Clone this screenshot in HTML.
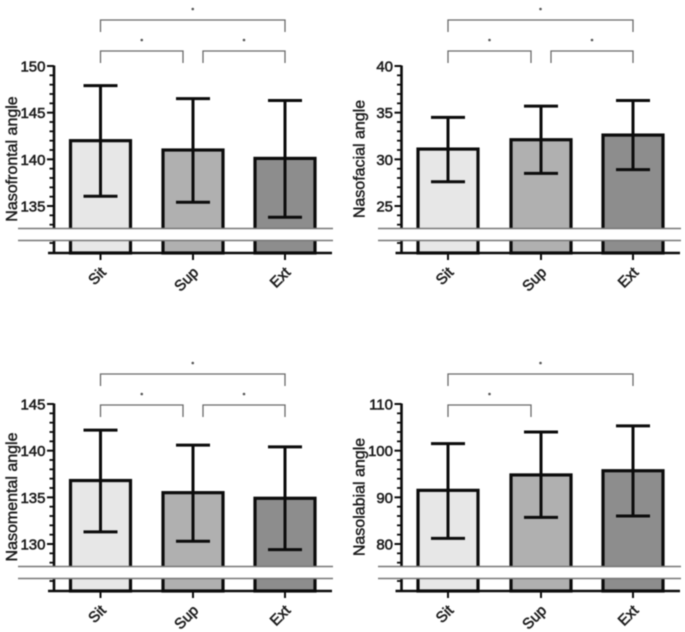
<!DOCTYPE html>
<html lang="en">
<head>
<meta charset="utf-8">
<title>Facial angle charts</title>
<style>
html,body{margin:0;padding:0;background:#fff;width:685px;height:632px;overflow:hidden}
svg{display:block;filter:blur(0.5px)}
text{font-family:"Liberation Sans",Arial,sans-serif;fill:#1c1c1c}
</style>
</head>
<body>
<svg id="chart" width="685" height="632" viewBox="0 0 685 632" xmlns="http://www.w3.org/2000/svg"></svg>
<script>
const categories = ['Sit', 'Sup', 'Ext'];
const panelTitles = ['Nasofrontal angle', 'Nasofacial angle', 'Nasomental angle', 'Nasolabial angle'];
const means = [[142, 141, 140.1], [31.1, 32.1, 32.6], [136.8, 135.5, 134.9], [91.5, 94.8, 95.7]];
const upperErrors = [[147.9, 146.5, 146.3], [34.5, 35.7, 36.3], [142.2, 140.6, 140.4], [101.5, 104, 105.3]];
const lowerErrors = [[136.05, 135.4, 133.8], [27.6, 28.5, 28.9], [131.3, 130.3, 129.4], [81.2, 85.7, 86]];
const tickLabels = [[150, 145, 140, 135], [40, 35, 30, 25], [145, 140, 135, 130], [110, 100, 90, 80]];
const significantPairs = [[[0, 2], [0, 1], [1, 2]], [[0, 2], [0, 1], [1, 2]], [[0, 2], [0, 1], [1, 2]], [[0, 2], [0, 1]]];

const NS = 'http://www.w3.org/2000/svg';
const root = document.getElementById('chart');
const fills = ['#e7e7e7', '#b0b0b0', '#8d8d8d'];
const INK = '#0c0c0c';

function make(tag, attrs, parent) {
  const el = document.createElementNS(NS, tag);
  for (const k in attrs) el.setAttribute(k, attrs[k]);
  parent.appendChild(el);
  return el;
}

panelTitles.forEach(function (title, p) {
  const col = p % 2, row = p < 2 ? 0 : 1;
  const axisX = col === 0 ? 54 : 401.5;
  const top = row === 0 ? 66 : 404;
  const span = 140;
  const baseY = top + 187;
  const break1 = top + 162.5, break2 = top + 174.5;
  const breakL = col === 0 ? 18 : 378, breakR = col === 0 ? 333 : 681;
  const axisL = axisX - 6, axisR = breakR - 1;
  const ticks = tickLabels[p];
  const hi = ticks[0], lo = ticks[ticks.length - 1];
  const major = ticks[0] - ticks[1];
  const yScale = function (v) { return top + (hi - v) / (hi - lo) * span; };
  const centers = col === 0 ? [100.5, 193, 285] : [448, 541, 633];
  const xScale = function (i) { return centers[i]; };
  const barW = 60;

  const g = make('g', {}, root);
  
  

  categories.forEach(function (cat, i) {
    const y = yScale(means[p][i]);
    const bar = make('rect', { x: xScale(i) - barW / 2, y: y, width: barW, height: baseY - y, fill: fills[i], stroke: INK, 'stroke-width': 3.2 }, g);
    
    
  });

  const axis = make('line', { x1: axisX, x2: axisX, y1: top - 0.5, y2: baseY, stroke: INK, 'stroke-width': 2.6 }, g);
  
  

  const minorStep = major / 5;
  for (let n = 0; ; n++) {
    const v = hi - n * minorStep;
    const y = yScale(v);
    if (y > break1) break;
    if (n % 5 === 0) continue;
    const minor = make('line', { x1: axisX - 4.5, x2: axisX, y1: y, y2: y, stroke: INK, 'stroke-width': 1.8 }, g);
    
    
  }
  const lowTick = make('line', { x1: axisX - 4.5, x2: axisX, y1: baseY - 10, y2: baseY - 10, stroke: INK, 'stroke-width': 1.8 }, g);
  
  

  ticks.forEach(function (t) {
    const y = yScale(t);
    const tick = make('line', { x1: axisX - 7, x2: axisX, y1: y, y2: y, stroke: INK, 'stroke-width': 2 }, g);
    
    
    const label = make('text', { x: axisX - 8.5, y: y + 5.5, 'text-anchor': 'end', 'font-size': 15, stroke: '#1c1c1c', 'stroke-width': 0.55 }, g);
    label.textContent = t;
    
    
  });

  const xAxis = make('line', { x1: axisL, x2: axisR, y1: baseY, y2: baseY, stroke: INK, 'stroke-width': 2.4 }, g);
  
  

  const gap = make('rect', { x: breakL, y: break1, width: breakR - breakL, height: break2 - break1, fill: '#fff' }, g);
  
  
  [break1, break2].forEach(function (by) {
    const line = make('line', { x1: breakL, x2: breakR, y1: by, y2: by, stroke: '#777', 'stroke-width': 1.4 }, g);
    
    
  });

  categories.forEach(function (cat, i) {
    const x = xScale(i), yU = yScale(upperErrors[p][i]), yL = yScale(lowerErrors[p][i]);
    const d = 'M' + x + ' ' + yU + 'V' + yL + 'M' + (x - 17) + ' ' + yU + 'H' + (x + 17) + 'M' + (x - 17) + ' ' + yL + 'H' + (x + 17);
    const err = make('path', { d: d, fill: 'none', stroke: INK, 'stroke-width': 3 }, g);
    
    

    const tick = make('line', { x1: x, x2: x, y1: baseY, y2: baseY + 7, stroke: INK, 'stroke-width': 2 }, g);
    
    
    const lx = x + 3.5, ly = baseY + 17.5;
    const label = make('text', { x: lx, y: ly, 'text-anchor': 'end', 'dominant-baseline': 'middle', 'font-size': 15, stroke: '#1c1c1c', 'stroke-width': 0.55, transform: 'rotate(-45 ' + lx + ' ' + ly + ')' }, g);
    label.textContent = cat;
    
    
  });

  const tx = col === 0 ? 17 : 364.5, ty = top + 93;
  const yTitle = make('text', { x: tx, y: ty, 'text-anchor': 'middle', 'font-size': 16, stroke: '#1c1c1c', 'stroke-width': 0.45, transform: 'rotate(-90 ' + tx + ' ' + ty + ')' }, g);
  yTitle.textContent = title;
  
  

  const bracketShift = row === 0 ? 0 : 16;
  significantPairs[p].forEach(function (pair) {
    const wide = pair[1] - pair[0] === 2;
    const by = top + bracketShift + (wide ? -46 : -15);
    let x1 = xScale(pair[0]), x2 = xScale(pair[1]);
    if (!wide) {
      if (pair[0] === 0) x2 -= 10;
      else x1 += 10;
    }
    const br = make('path', { d: 'M' + x1 + ' ' + (by + 12) + 'V' + by + 'H' + x2 + 'V' + (by + 12), fill: 'none', stroke: '#6a6a6a', 'stroke-width': 1.3 }, g);
    
    
    const star = make('circle', { cx: (x1 + x2) / 2, cy: by - 11, r: 1.3, fill: '#555' }, g);
    
    
  });
});
</script>
</body>
</html>
